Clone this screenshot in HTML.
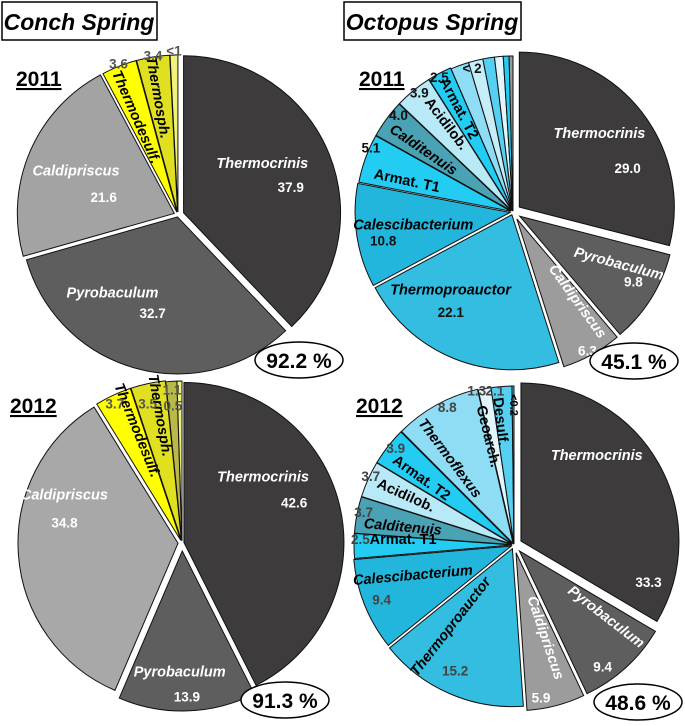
<!DOCTYPE html>
<html><head><meta charset="utf-8">
<style>
body{margin:0;background:#fff;}
svg text{font-family:"Liberation Sans",Arial,sans-serif;font-weight:bold;}
</style></head>
<body>
<svg id="chart" width="685" height="721" viewBox="0 0 685 721" xmlns="http://www.w3.org/2000/svg">
<rect x="0" y="0" width="685" height="721" fill="#fff"/>
<g>
<rect x="2" y="2" width="155" height="38" fill="#fff" stroke="#000" stroke-width="1.5"/>
<text x="79" y="30" font-size="23" font-style="italic" text-anchor="middle">Conch Spring</text></g>
<g>
<rect x="344" y="2" width="177" height="38" fill="#fff" stroke="#000" stroke-width="1.5"/>
<text x="432" y="30" font-size="23" font-style="italic" text-anchor="middle">Octopus Spring</text></g>
<g id="pies"></g>
<text x="16" y="86" font-size="21" text-decoration="underline">2011</text>
<text x="359" y="86" font-size="21" text-decoration="underline">2011</text>
<text x="10" y="413" font-size="21" text-decoration="underline">2012</text>
<text x="356" y="413" font-size="21" text-decoration="underline">2012</text>
<g><ellipse cx="299" cy="360" rx="44" ry="18" fill="#fff" stroke="#000" stroke-width="1.5"/><text x="299" y="368" font-size="21" text-anchor="middle">92.2 %</text></g>
<g><ellipse cx="634" cy="361" rx="44" ry="18" fill="#fff" stroke="#000" stroke-width="1.5"/><text x="634" y="369" font-size="21" text-anchor="middle">45.1 %</text></g>
<g><ellipse cx="285" cy="700" rx="44" ry="18" fill="#fff" stroke="#000" stroke-width="1.5"/><text x="285" y="708" font-size="21" text-anchor="middle">91.3 %</text></g>
<g><ellipse cx="638" cy="702" rx="44" ry="18" fill="#fff" stroke="#000" stroke-width="1.5"/><text x="638" y="710" font-size="21" text-anchor="middle">48.6 %</text></g>
</svg>
<script>
// ---- data ----
const conch2011Names = ["Thermocrinis","Pyrobaculum","Caldipriscus","Thermodesulf.","Thermosph.",""];
const conch2011Values = [37.9,32.7,21.6,3.6,3.4,0.8];
const conch2011Labels = ["37.9","32.7","21.6","3.6","3.4","<1"];

const conch2012Names = ["Thermocrinis","Pyrobaculum","Caldipriscus","Thermodesulf.","Thermosph.","",""];
const conch2012Values = [42.6,13.9,34.8,3.7,3.5,1.1,0.5];
const conch2012Labels = ["42.6","13.9","34.8","3.7","3.5","1.1","0.5"];

const oct2011Names = ["Thermocrinis","Pyrobaculum","Caldipriscus","Thermoproauctor","Calescibacterium","Armat. T1","Calditenuis","Acidilob.","Armat. T2","","","","","",""];
const oct2011Values = [29.0,9.8,6.3,22.1,10.8,5.1,4.0,3.9,2.5,1.9,1.5,1.2,0.9,0.6,0.4];
const oct2011Labels = ["29.0","9.8","6.3","22.1","10.8","5.1","4.0","3.9","2.5","< 2","","","","",""];

const oct2012Names = ["Thermocrinis","Pyrobaculum","Caldipriscus","Thermoproauctor","Calescibacterium","Armat. T1","Calditenuis","Acidilob.","Armat. T2","Thermoflexus","Geoarch.","Desulf.","<0.2"];
const oct2012Values = [33.3,9.4,5.9,15.2,9.4,2.5,3.7,3.7,3.9,8.8,1.3,2.1,0.2];
const oct2012Labels = ["33.3","9.4","5.9","15.2","9.4","2.5","3.7","3.7","3.9","8.8","1.3","2.1",""];

// ---- styles ----
const upright = ["Armat. T1","Armat. T2","Acidilob.","Geoarch.","Desulf.","<0.2"];
const charts = [
 {id:"conch-2011",cx:178,cy:215,r:157,names:conch2011Names,values:conch2011Values,labels:conch2011Labels,
  colors:["#3d3b3b","#5e5e5e","#a3a3a3","#ffff00","#e0e020","#f2f27a"],
  explode:[6,2,4,3,3,3],
  layout:[[-10,.59,0,9,.70],[25,.64,0,-1,.64],[0,.68,0,-11,.46],[-2,.66,"in",0,1.01],[-1,.74,"in",0,1.0],[0,.5,0,0,1.02]]},
 {id:"conch-2012",cx:182,cy:543,r:160,names:conch2012Names,values:conch2012Values,labels:conch2012Labels,
  colors:["#3d3b3b","#5e5e5e","#a8a8a8","#ffff00","#e0e020","#b9b94a","#f2f27a"],
  explode:[2,8,4,3,3,2,2],
  layout:[[-26,.64,0,-6,.73],[3,.76,0,0,.92],[27,.77,0,14,.72],[3,.74,"in",-1,.94],[2,.79,"in",-2,.87],[0,.5,0,0,.94],[0,.5,0,-3,.84]]},
 {id:"octopus-2011",cx:513,cy:212,r:155,names:oct2011Names,values:oct2011Values,labels:oct2011Labels,
  colors:["#3d3b3b","#5e5e5e","#9c9c9c","#33bde0","#22b6dd","#22ccf2","#4aa3b5","#b8e9f7","#22ccf2","#8fdcf5","#c6eef9","#55d0f0","#e0f6fc","#22ccf2","#999999"],
  explode:[8,8,8,3,3,2,2,2,2,1,1,1,1,1,1],
  layout:[[-4.6,.70,0,18.6,.74],[-6,.71,15,-1.6,.85],[-7,.66,"out",1,.97],[16.7,.63,0,9.6,.75],[1,.63,0,-4.4,.84],[-4,.70,12,4,.99],[-2,.69,"in",3.6,.95],[2,.70,"in",1,.96],[0,.74,"in",-1,.97],[0,.5,0,4,.95],[0,.5,0,0,1],[0,.5,0,0,1],[0,.5,0,0,1],[0,.5,0,0,1],[0,.5,0,0,1]]},
 {id:"octopus-2012",cx:514,cy:545,r:158,names:oct2012Names,values:oct2012Values,labels:oct2012Labels,
  colors:["#3d3b3b","#5e5e5e","#9c9c9c","#33bde0","#22b6dd","#22ccf2","#4aa3b5","#b8e9f7","#22ccf2","#8fdcf5","#e0f6fc","#55d0f0","#22ccf2"],
  explode:[8,8,8,4,3,2,2,2,2,2,1,1,1],
  layout:[[-18.5,.72,0,48,.85],[-10,.69,"out",7,.91],[-4,.57,"out",5,.94],[14.5,.63,"in",1.4,.86],[5,.65,-5,-1,.89],[3,.69,0,2,.96],[-2,.70,5,1,.96],[0,.74,"in",1,.99],[-2.5,.71,"in",1,.95],[-8,.67,"in",3,.95],[-3,.70,"in",-3,.99],[-2,.78,"in",-2.6,.97],[0,.88,"in",0,1]]}
];
const NS="http://www.w3.org/2000/svg";
const root=document.getElementById("pies");
function pt(cx,cy,r,deg){const a=deg*Math.PI/180;return [cx+r*Math.sin(a),cy-r*Math.cos(a)];}
charts.forEach(c=>{
  const g=document.createElementNS(NS,"g");
  
  
  root.appendChild(g);
  const total=c.values.reduce((a,b)=>a+b,0);
  let cum=0;
  const textLayer=[];
  c.values.forEach((v,i)=>{
    const a0=cum/total*360, a1=(cum+v)/total*360; cum+=v;
    const mid=(a0+a1)/2;
    const [ox,oy]=pt(0,0,c.explode[i],mid);
    const cx=c.cx+ox, cy=c.cy+oy;
    const p0=pt(cx,cy,c.r,a0), p1=pt(cx,cy,c.r,a1);
    const large=(a1-a0)>180?1:0;
    const path=document.createElementNS(NS,"path");
    path.setAttribute("d",`M${cx},${cy}L${p0[0]},${p0[1]}A${c.r},${c.r} 0 ${large} 1 ${p1[0]},${p1[1]}Z`);
    path.setAttribute("fill",c.colors[i]);
    path.setAttribute("stroke","#111");
    path.setAttribute("stroke-width","1");
    
    
    g.appendChild(path);
    const L=c.layout[i];
    const dark=i<3;
    if(c.names[i]){
      const ang=mid+L[0];
      const [nx,ny]=pt(cx,cy,c.r*L[1],ang);
      let rot=L[2];
      if(rot==="in"){rot=Math.atan2(Math.cos(ang*Math.PI/180),-Math.sin(ang*Math.PI/180))*180/Math.PI;}
      else if(rot==="out"){rot=Math.atan2(-Math.cos(ang*Math.PI/180),Math.sin(ang*Math.PI/180))*180/Math.PI;}
      const t=document.createElementNS(NS,"text");
      t.setAttribute("x",nx);t.setAttribute("y",ny);
      t.setAttribute("text-anchor","middle");t.setAttribute("dominant-baseline","middle");
      t.setAttribute("font-size", c.names[i]==="<0.2"?"11":"14.5");
      if(!upright.includes(c.names[i])) t.setAttribute("font-style","italic");
      t.setAttribute("fill",dark?"#fff":"#000");
      t.setAttribute("transform",`rotate(${rot} ${nx} ${ny})`);
      t.textContent=c.names[i];
      
      
      textLayer.push(t);
    }
    if(c.labels[i]){
      const [vx,vy]=pt(cx,cy,c.r*L[4],mid+L[3]);
      const t=document.createElementNS(NS,"text");
      t.setAttribute("x",vx);t.setAttribute("y",vy);
      t.setAttribute("text-anchor","middle");t.setAttribute("dominant-baseline","middle");
      t.setAttribute("font-size","13.5");
      t.setAttribute("fill",dark?"#fff":(c.id.startsWith("conch")?"#555":(c.id.endsWith("2012")?"#444":"#111")));
      t.textContent=c.labels[i];
      
      
      textLayer.push(t);
    }
  });
  textLayer.forEach(t=>g.appendChild(t));
});
</script>
</body></html>
